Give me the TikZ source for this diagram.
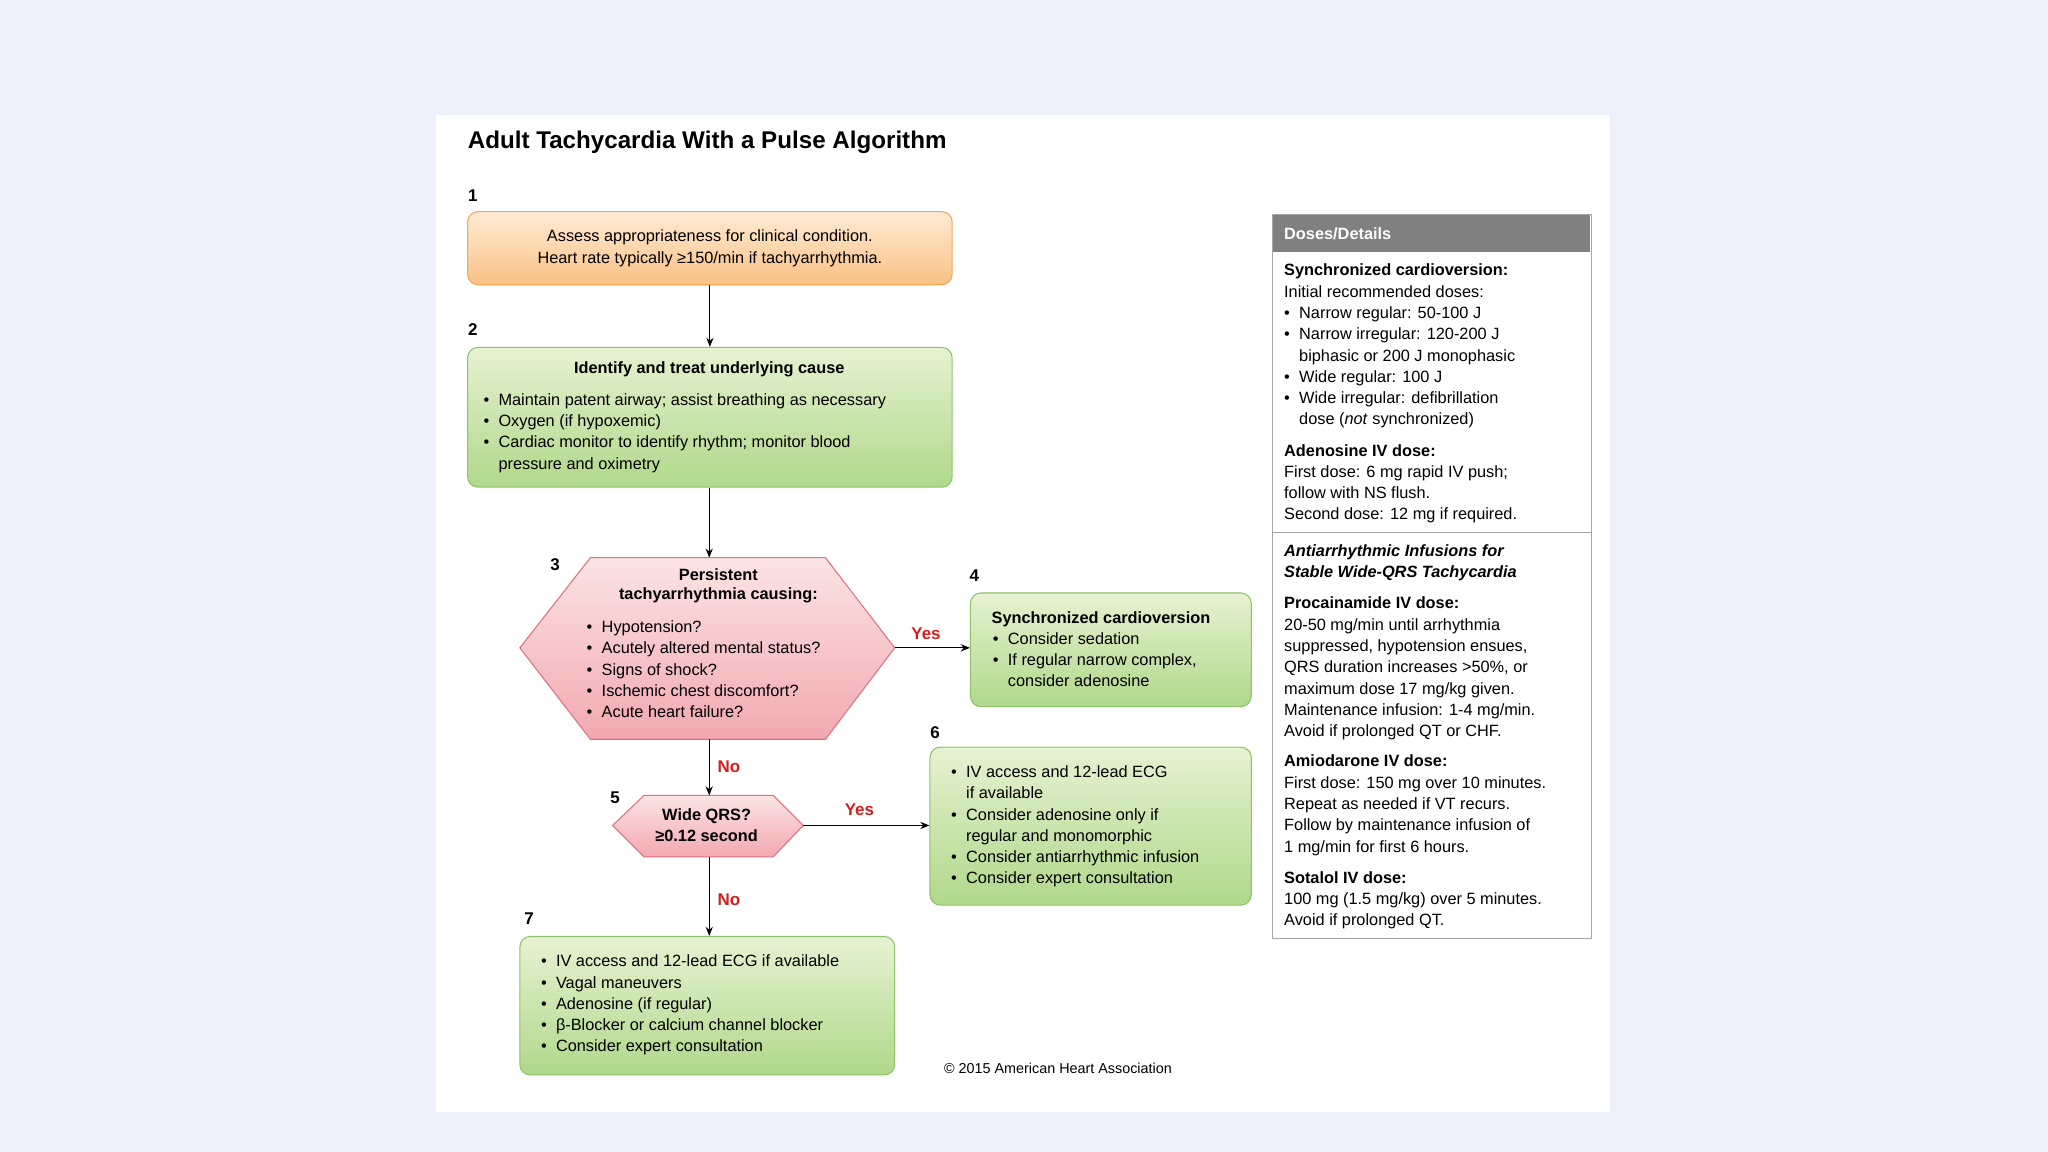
\documentclass[tikz,border=0pt]{standalone}
\usepackage{fontspec}
\setmainfont{Liberation Sans}
\usetikzlibrary{arrows.meta}
\definecolor{bgc}{HTML}{EEF0FC}
\definecolor{orb}{HTML}{F2A65A}\definecolor{ort}{HTML}{FEEBD4}\definecolor{orbt}{HTML}{FAC184}
\definecolor{grb}{HTML}{8DC26A}\definecolor{grt}{HTML}{E6F2D2}\definecolor{grbt}{HTML}{B0D88A}
\definecolor{pkb}{HTML}{E0707E}\definecolor{pkt}{HTML}{FCE4E4}\definecolor{pkbt}{HTML}{F2A8B0}
\definecolor{yred}{HTML}{D21E1E}
\newcommand{\bl}[1]{\makebox[11.5pt][l]{\textbullet}#1}
\newcommand{\cl}[1]{\hspace*{11.5pt}#1}
\begin{document}
\begin{tikzpicture}[x=1pt,y=-1pt,
  every node/.style={inner sep=0pt},
  body/.style={font=\fontsize{12.5}{16.3}\selectfont},
  tb/.style={body,anchor=north west,align=left,yshift=7.4pt},
  tc/.style={body,anchor=north,align=center,yshift=7.4pt},
  num/.style={font=\fontsize{13}{15}\selectfont\bfseries},
  lab/.style={font=\fontsize{13}{15}\selectfont\bfseries,text=yred},
  obox/.style={draw=orb,line width=0.8pt,rounded corners=8pt,top color=ort,bottom color=orbt},
  gbox/.style={draw=grb,line width=0.8pt,rounded corners=8pt,top color=grt,bottom color=grbt},
  pk/.style={draw=pkb,line width=0.8pt,top color=pkt,bottom color=pkbt},
  arr/.style={-{Stealth[length=7pt,width=5.5pt]},line width=0.8pt}]
\fill[bgc] (0,0) rectangle (1568,882);
\useasboundingbox (0,0) rectangle (1568,882);
\fill[white] (334,88) rectangle (1233,851);
\node[anchor=west,font=\fontsize{18.5}{20}\selectfont\bfseries] (title) at (358,109) {Adult Tachycardia With a Pulse Algorithm};
% box 1
\node[num] (n1) at (362,150) {1};
\node[obox,minimum width=371pt,minimum height=56pt] (b1) at (543.5,190) {};
\node[tc] (t1) at (543.5,181) {\strut Assess appropriateness for clinical condition.\\Heart rate typically ≥150/min if tachyarrhythmia.};
% box 2
\node[num] (n2) at (362,252) {2};
\node[gbox,minimum width=371pt,minimum height=107pt] (b2) at (543.5,319.5) {};
\node[tc,font=\fontsize{12.5}{16.3}\selectfont\bfseries] (t2h) at (543,282) {\strut Identify and treat underlying cause};
\node[tb] (t2) at (370,306) {\strut\bl{Maintain patent airway; assist breathing as necessary}\\\bl{Oxygen (if hypoxemic)}\\\bl{Cardiac monitor to identify rhythm; monitor blood}\\\cl{pressure and oximetry}};
% hexagon 3
\node[num] (n3) at (425,432) {3};
\draw[pk] (398,496) -- (452,427) -- (632,427) -- (685,496) -- (632,566) -- (452,566) -- cycle;
\coordinate (h3t) at (543,427); \coordinate (h3b) at (543,566); \coordinate (h3r) at (685,496);
\node[tc,font=\fontsize{12.5}{15}\selectfont\bfseries] (t3h) at (550,441) {\strut Persistent\\tachyarrhythmia causing:};
\node[tb] (t3) at (449,480) {\strut\bl{Hypotension?}\\\bl{Acutely altered mental status?}\\\bl{Signs of shock?}\\\bl{Ischemic chest discomfort?}\\\bl{Acute heart failure?}};
% box 4
\node[num] (n4) at (746,441) {4};
\node[gbox,minimum width=215pt,minimum height=87pt] (b4) at (850.5,497.5) {};
\node[tb,font=\fontsize{12.5}{16.3}\selectfont\bfseries] (t4h) at (759,473) {\strut Synchronized cardioversion};
\node[tb] (t4) at (760,489) {\strut\bl{Consider sedation}\\\bl{If regular narrow complex,}\\\cl{consider adenosine}};
% hexagon 5
\node[num] (n5) at (471,611) {5};
\draw[pk] (469,632) -- (493,609) -- (592,609) -- (615,632) -- (592,656) -- (493,656) -- cycle;
\coordinate (h5t) at (543,609); \coordinate (h5b) at (543,656); \coordinate (h5r) at (615,632);
\node[tc,font=\fontsize{12.5}{16.3}\selectfont\bfseries] (t5) at (541,624) {\strut Wide QRS?\\≥0.12 second};
% box 6
\node[num] (n6) at (716,561) {6};
\node[gbox,minimum width=246pt,minimum height=121pt] (b6) at (835,632.5) {};
\node[tb] (t6) at (728,591) {\strut\bl{IV access and 12-lead ECG}\\\cl{if available}\\\bl{Consider adenosine only if}\\\cl{regular and monomorphic}\\\bl{Consider antiarrhythmic infusion}\\\bl{Consider expert consultation}};
% box 7
\node[num] (n7) at (405,703) {7};
\node[gbox,minimum width=287pt,minimum height=106pt] (b7) at (541.5,770) {};
\node[tb] (t7) at (414,736) {\strut\bl{IV access and 12-lead ECG if available}\\\bl{Vagal maneuvers}\\\bl{Adenosine (if regular)}\\\bl{β-Blocker or calcium channel blocker}\\\bl{Consider expert consultation}};
% arrows
\draw[arr] (b1.south) -- (b2.north);
\draw[arr] (b2.south -| h3t) -- (h3t);
\draw[arr] (h3r) -- (b4.west |- h3r);
\draw[arr] (h3b) -- (h5t);
\draw[arr] (h5r) -- (b6.west |- h5r);
\draw[arr] (h5b) -- (b7.north -| h5b);
\node[lab] (y1) at (709,485) {Yes};
\node[lab] (no1) at (558,587) {No};
\node[lab] (y2) at (658,620) {Yes};
\node[lab] (no2) at (558,689) {No};
\node[font=\fontsize{11}{13}\selectfont] (copy) at (810,818) {© 2015 American Heart Association};
% doses panel
\node[draw=gray!70,line width=0.8pt,minimum width=244pt,minimum height=554pt,anchor=north west] (pan) at (974,164) {};
\fill[gray!100!white,fill=gray] (974.4,164.4) rectangle (1217.6,193);
\draw[gray!70,line width=0.8pt] (974,408) -- (1218,408);
\node[anchor=west,font=\fontsize{12.5}{15}\selectfont\bfseries,text=white] (ph) at (983,179) {Doses/Details};
\node[tb] (pa) at (983,207) {\strut\textbf{Synchronized cardioversion:}\\Initial recommended doses:\\\bl{Narrow regular: 50-100 J}\\\bl{Narrow irregular: 120-200 J}\\\cl{biphasic or 200 J monophasic}\\\bl{Wide regular: 100 J}\\\bl{Wide irregular: defibrillation}\\\cl{dose (\textit{not} synchronized)}};
\node[tb] (pb) at (983,345) {\strut\textbf{Adenosine IV dose:}\\First dose: 6 mg rapid IV push;\\follow with NS flush.\\Second dose: 12 mg if required.};
\node[tb,font=\fontsize{12.5}{16.3}\selectfont\bfseries\itshape] (pc) at (983,422) {\strut Antiarrhythmic Infusions for\\Stable Wide-QRS Tachycardia};
\node[tb] (pd) at (983,462) {\strut\textbf{Procainamide IV dose:}\\20-50 mg/min until arrhythmia\\suppressed, hypotension ensues,\\QRS duration increases >50\%, or\\maximum dose 17 mg/kg given.\\Maintenance infusion: 1-4 mg/min.\\Avoid if prolonged QT or CHF.};
\node[tb] (pe) at (983,583) {\strut\textbf{Amiodarone IV dose:}\\First dose: 150 mg over 10 minutes.\\Repeat as needed if VT recurs.\\Follow by maintenance infusion of\\1 mg/min for first 6 hours.};
\node[tb] (pf) at (983,672) {\strut\textbf{Sotalol IV dose:}\\100 mg (1.5 mg/kg) over 5 minutes.\\Avoid if prolonged QT.};
\end{tikzpicture}
\end{document}
